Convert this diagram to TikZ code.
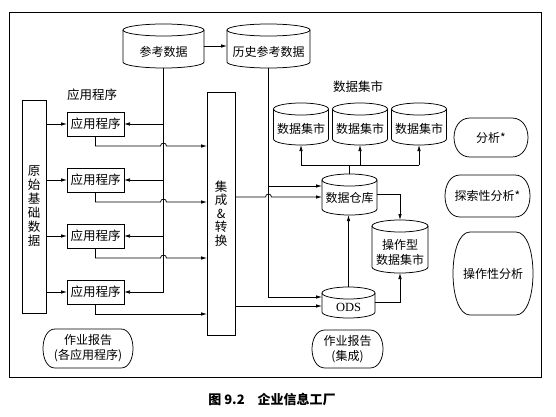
\documentclass[tikz,border=0pt]{standalone}
\usepackage{fontspec}
\setmainfont{Noto Sans CJK SC}
\newfontfamily\odsfont{Liberation Serif}
\usetikzlibrary{arrows.meta,calc}

\tikzset{
  box0/.style={draw=none,inner sep=0pt,outer sep=0pt},
  rect/.style={draw,inner sep=0pt,outer sep=0pt,font=\fontsize{12.5}{14}\selectfont,align=center},
  arr/.style={-{Latex[length=6pt,width=3.5pt]}},
  lbl/.style={font=\fontsize{12.5}{14}\selectfont,inner sep=0pt},
  cyltext/.style={font=\fontsize{12}{15}\selectfont,inner sep=0pt,align=center},
  rndtext/.style={font=\fontsize{12}{15}\selectfont,align=center},
}

% cylinder: name, cx, cy, w, h, text, text shift
\newcommand\mycyl[7]{%
  \node[box0,minimum width=#4pt,minimum height=#5pt] (#1) at (#2,#3) {};
  \node[cyltext] (#1t) at ($(#1.center)+(0,#7pt)$) {#6};
  \draw ($(#1.north)+(0,-6pt)$) ellipse [x radius=#4pt/2, y radius=6pt];
  \draw ($(#1.north west)+(0,-6pt)$) -- ($(#1.south west)+(0,6pt)$)
        arc[start angle=180,end angle=360,x radius=#4pt/2,y radius=6pt]
        -- ($(#1.north east)+(0,-6pt)$);
}
% rounded shape: name, cx, cy, w, h, r, text
\newcommand\myrnd[7]{%
  \node[box0,rndtext,minimum width=#4pt,minimum height=#5pt] (#1) at (#2,#3) {#7};
  \draw ($(#1.north west)+(#6pt,0)$) -- ($(#1.north east)+(-#6pt,0)$)
     .. controls ($(#1.north east)+(#6pt/3,0)$) and ($(#1.south east)+(#6pt/3,0)$) .. ($(#1.south east)+(-#6pt,0)$)
     -- ($(#1.south west)+(#6pt,0)$)
     .. controls ($(#1.south west)+(-#6pt/3,0)$) and ($(#1.north west)+(-#6pt/3,0)$) .. cycle;
}

\begin{document}
\begin{tikzpicture}[x=1pt,y=1pt,line width=0.75pt]
\useasboundingbox (0,0) rectangle (556,416);
\fill[white] (0,0) rectangle (556,416);

% frame
\node[box0,draw,minimum width=532pt,minimum height=365pt] (frame) at (275,221.5) {};

% cylinders
\mycyl{ref}{163.5}{370}{81}{44}{参考数据}{-6}
\mycyl{hist}{268.5}{370}{83}{44}{历史参考数据}{-6}
\mycyl{dmA}{301}{292}{55}{42}{数据集市}{-5}
\mycyl{dmB}{360}{292}{55}{42}{数据集市}{-5}
\mycyl{dmC}{419}{292}{55}{42}{数据集市}{-5}
\mycyl{dw}{349.5}{221.5}{55}{41}{数据仓库}{-3}
\mycyl{opdm}{400}{169.5}{56}{53}{操作型\\数据集市}{-6}
\mycyl{ods}{348.5}{113.5}{53}{31}{\odsfont\fontsize{12.5}{14}\selectfont ODS}{-5}

% labels
\node[lbl] (dmlabel) at (358,329) {数据集市};
\node[lbl] (applabel) at (92,321) {应用程序};

% rectangles
\node[rect,minimum width=24pt,minimum height=213pt,font=\fontsize{12.5}{14}\selectfont] (raw) at (34,209.5) {原\\始\\基\\础\\数\\据};
\node[rect,minimum width=28pt,minimum height=243pt,font=\fontsize{12.5}{13.5}\selectfont] (integ) at (221,202.5) {集\\成\\\&\\转\\换};
\node[rect,minimum width=57pt,minimum height=24pt] (app1) at (95.5,292) {应用程序};
\node[rect,minimum width=57pt,minimum height=24pt] (app2) at (95.5,236) {应用程序};
\node[rect,minimum width=57pt,minimum height=24pt] (app3) at (95.5,180) {应用程序};
\node[rect,minimum width=57pt,minimum height=24pt] (app4) at (95.5,124) {应用程序};

% rounded shapes
\myrnd{anaA}{491}{278.5}{74}{39}{16}{分析*}
\myrnd{anaB}{487.5}{220}{85}{42}{15}{探索性分析*}
\myrnd{anaC}{493}{142.5}{80}{83}{17}{操作性分析}
\myrnd{repA}{88}{67.5}{90}{39}{12}{作业报告\\(各应用程序)}
\myrnd{repB}{347.5}{67}{71}{38}{13}{作业报告\\(集成)}

% caption
\node[font=\fontsize{13}{15}\selectfont\bfseries] (cap) at (272,16) {图 9.2\quad 企业信息工厂};

% connectors
\draw[arr] (ref.east) -- (hist.west);
\draw (ref.south) -- (ref.south |- app4.east);
\foreach \a in {app1,app2,app3,app4}{
  \draw[arr] (ref.south |- \a.east) -- (\a.east);
  \draw[arr] (raw.east |- \a.west) -- (\a.west);
}
\foreach \a in {app1,app2,app3}{
  \draw[arr] (\a.south) -- ++(0,-10) coordinate (o\a)
     -- ($(ref.south |- o\a)+(-3,0)$) arc[start angle=180,end angle=0,radius=3pt]
     -- (integ.west |- o\a);
}
\draw[arr] (app4.south) -- ++(0,-10) coordinate (oapp4) -- (integ.west |- oapp4);

\coordinate (dwhi) at ($(dw.west)+(0,8.5)$);
\coordinate (dwlo) at ($(dw.west)+(0,-2.5)$);
\coordinate (odshi) at ($(ods.west)+(0,5.5)$);
\coordinate (odslo) at ($(ods.west)+(0,-3.5)$);

\draw[arr] (hist.south) |- (odshi);
\draw[arr] (hist.south |- dwhi) -- (dwhi);
\draw[arr] (integ.east |- dwlo) -- ($(hist.south |- dwlo)+(-3,0)$)
   arc[start angle=180,end angle=0,radius=3pt] -- (dwlo);
\draw[arr] (integ.east |- odslo) -- (odslo);

\draw (dw.north) -- ++(0,9) coordinate (split);
\draw (dmA.south |- split) -- (dmC.south |- split);
\foreach \m in {dmA,dmB,dmC}{
  \draw[arr] (\m.south |- split) -- (\m.south);
}
\draw[arr] (dw.east) -| (opdm.north);
\draw[arr] (ods.north) -- (ods.north |- dw.south);
\draw[arr] (ods.east) -| (opdm.south);
\end{tikzpicture}
\end{document}
